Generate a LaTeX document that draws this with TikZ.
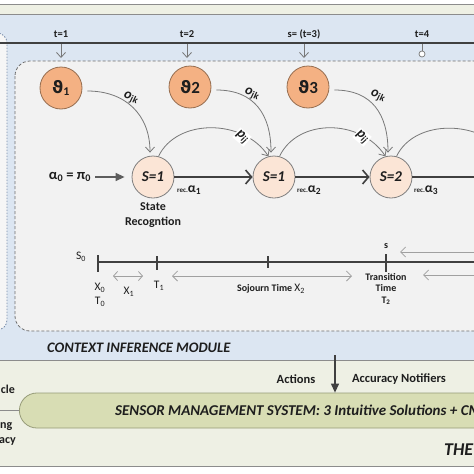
\documentclass[tikz,border=0pt]{standalone}
\usepackage{fontspec}
\setmainfont{Carlito}
\newfontfamily\dvs{DejaVu Sans}
\usetikzlibrary{arrows.meta}
\newcommand\lowidx[1]{\textsubscript{#1}}
\definecolor{bluebg}{RGB}{220,230,242}
\definecolor{greenbg}{RGB}{238,240,228}
\definecolor{boxfill}{RGB}{242,242,242}
\definecolor{leftfill}{RGB}{246,246,246}
\definecolor{leftdraw}{RGB}{120,140,170}
\definecolor{boxdraw}{RGB}{110,110,110}
\definecolor{thfill}{RGB}{244,177,131}
\definecolor{thdraw}{RGB}{150,110,80}
\definecolor{stfill}{RGB}{251,229,214}
\definecolor{stdraw}{RGB}{127,127,127}
\definecolor{pillfill}{RGB}{216,221,180}
\definecolor{pilldraw}{RGB}{150,155,120}
\definecolor{darkline}{RGB}{64,64,64}
\definecolor{arrgray}{RGB}{120,120,120}
\definecolor{lightarr}{RGB}{160,160,160}
\definecolor{txt}{RGB}{30,30,30}
\definecolor{sepgray}{RGB}{140,140,140}
\begin{document}
\begin{tikzpicture}[x=1pt,y=-1pt,
  thnode/.style={circle, minimum size=42pt, inner sep=0pt, fill=thfill, draw=thdraw, line width=0.8pt, text=txt, font=\fontsize{17}{17}\selectfont\bfseries},
  stnode/.style={circle, minimum size=42pt, inner sep=0pt, fill=stfill, draw=stdraw, line width=0.8pt, text=txt, font=\fontsize{15}{15}\selectfont\bfseries\itshape},
  thinarr/.style={draw=arrgray, line width=0.8pt, -{Straight Barb[length=5pt,width=9pt]}},
  transarr/.style={draw=darkline, line width=1.8pt, -{Straight Barb[length=6pt,width=14pt,line width=1.6pt]}},
  dimarr/.style={draw=lightarr, line width=0.8pt},
  tlab/.style={font=\fontsize{10.5}{10.5}\selectfont\bfseries, text=txt, inner sep=0pt},
  oflab/.style={font=\fontsize{14}{14}\selectfont\bfseries\itshape, text=txt, inner sep=1pt},
  reclab/.style={font=\fontsize{13.5}{13.5}\selectfont\bfseries, text=txt, inner sep=0pt, anchor=west},
  smalllab/.style={font=\fontsize{11.5}{11.5}\selectfont, text=txt, inner sep=0pt},
  smallbold/.style={font=\fontsize{10}{11.5}\selectfont\bfseries, text=txt, inner sep=0pt, align=center},
  biglab/.style={font=\fontsize{14.5}{14.5}\selectfont\bfseries\itshape, text=txt, inner sep=0pt, anchor=west},
  sidelab/.style={font=\fontsize{12}{12}\selectfont\bfseries, text=txt, inner sep=0pt, anchor=east}
]
\useasboundingbox (0,0) rectangle (474,474);
\clip (0,0) rectangle (474,474);
% backgrounds
\fill[white] (0,0) rectangle (474,474);
\fill[greenbg] (0,4) rectangle (474,14);
\draw[sepgray, line width=0.8pt] (0,4) -- (474,4);
\fill[bluebg] (0,14) rectangle (474,360);
\draw[sepgray, line width=0.8pt] (0,14) -- (474,14);
\fill[greenbg] (0,360) rectangle (474,466);
\draw[sepgray, line width=0.8pt] (0,360) -- (474,360);
\draw[sepgray, line width=0.8pt] (0,466) -- (474,466);
% left box
\draw[leftdraw, fill=leftfill, line width=0.8pt, dash pattern=on 1.5pt off 1.5pt, rounded corners=10pt] (-100,33) rectangle (7,330);
% main box
\draw[boxdraw, fill=boxfill, line width=0.8pt, dash pattern=on 3pt off 2pt, rounded corners=15pt] (15,61) rectangle (530,331);
% top timeline
\draw[darkline, line width=1.5pt] (0,43) -- (474,43);
\node[tlab] (t1) at (61,34) {t=1};
\node[tlab] (t2) at (187,34) {t=2};
\node[tlab] (t3) at (304,34) {s= (t=3)};
\node[tlab] (t4) at (422,34) {t=4};
\coordinate (a1s) at (61,44); \coordinate (a1e) at (61,58);
\coordinate (a2s) at (187,44); \coordinate (a2e) at (187,58);
\coordinate (a3s) at (304,44); \coordinate (a3e) at (304,58);
\draw[thinarr] (a1s) -- (a1e);
\draw[thinarr] (a2s) -- (a2e);
\draw[thinarr] (a3s) -- (a3e);
\node[circle, draw=arrgray, fill=white, line width=0.7pt, minimum size=6pt, inner sep=0pt] (t4c) at (422,54) {};
\coordinate (a4s) at (422,44);
\draw[arrgray, line width=0.8pt] (a4s) -- (t4c);
% theta nodes
\node[thnode] (th1) at (61,88) {{\dvs ϑ}\lowidx{1}};
\node[thnode] (th2) at (190,87) {{\dvs ϑ}2};
\node[thnode] (th3) at (308,87) {{\dvs ϑ}3};
% state nodes
\node[stnode] (s1) at (153,177) {S=1};
\node[stnode] (s2) at (274,177) {S=1};
\node[stnode] (s3) at (391,177) {S=2};
\coordinate (rend) at (490,177);
\coordinate (s4top) at (508,157);
% initial
\node[font=\fontsize{14.5}{14.5}\selectfont\bfseries, text=txt, inner sep=0pt] (init) at (70,177) {α\lowidx{0} = π\lowidx{0}};
\draw[draw=darkline!85, line width=1.4pt, -{Triangle[length=9pt,width=8pt]}, shorten <=4pt, shorten >=7pt] (init) -- (s1);
% transitions
\draw[transarr] (s1) -- (s2);
\draw[transarr] (s2) -- (s3);
\draw[draw=darkline, line width=1.8pt] (s3) -- (rend);
% observation arcs
\draw[thinarr] ([xshift=5pt,yshift=-3pt]th1.east) .. controls +(38,0) and +(0,-38) .. ([xshift=-3pt,yshift=3pt]s1.north);
\draw[thinarr] ([xshift=5pt,yshift=-3pt]th2.east) .. controls +(38,0) and +(0,-38) .. ([xshift=-3pt,yshift=3pt]s2.north);
\draw[thinarr] ([xshift=5pt,yshift=-3pt]th3.east) .. controls +(38,0) and +(0,-38) .. ([xshift=-3pt,yshift=3pt]s3.north);
\node[oflab, rotate=-18] (o1) at (131,98) {o\lowidx{jk}};
\node[oflab, rotate=-18] (o2) at (252,94) {o\lowidx{jk}};
\node[oflab, rotate=-18] (o3) at (378,96) {o\lowidx{jk}};
% transition arcs
\draw[thinarr] (s1.75) .. controls +(18,-38) and +(-25,-38) .. (s2.105);
\draw[thinarr] (s2.75) .. controls +(18,-38) and +(-25,-38) .. (s3.105);
\draw[arrgray, line width=0.8pt] (s3.75) .. controls +(18,-38) and +(-25,-38) .. (s4top);
\node[oflab, fill=white, rotate=-40] (p1) at (242,137) {p\lowidx{ij}};
\node[oflab, fill=white, rotate=-40] (p2) at (362,137) {p\lowidx{ij}};
% recognised alphas
\node[reclab] (r1) at (177,190) {{\fontsize{7}{7}\selectfont rec.}α\lowidx{1}};
\node[reclab] (r2) at (297,190) {{\fontsize{7}{7}\selectfont rec.}α\lowidx{2}};
\node[reclab] (r3) at (414,190) {{\fontsize{7}{7}\selectfont rec.}α\lowidx{3}};
\node[font=\fontsize{12}{15}\selectfont\bfseries, text=txt, align=center, inner sep=0pt] (srec) at (153,215) {State\\Recogntion};
% lower timeline
\coordinate (tl0) at (98,262);
\coordinate (tlend) at (490,262);
\draw[darkline, line width=1.5pt] (tl0) -- (tlend);
\draw[darkline, line width=1.2pt] (98,255) -- (98,272);
\draw[darkline, line width=1.2pt] (157,256) -- (157,270);
\draw[darkline, line width=1.2pt] (268,256) -- (268,268);
\draw[darkline, line width=1.2pt] (386,254) -- (386,272);
\node[smalllab] (S0) at (81,257) {S\lowidx{0}};
\node[smalllab] (X0) at (100,288) {X\lowidx{0}};
\node[smalllab] (T0) at (100,302) {T\lowidx{0}};
\node[smalllab] (X1) at (129,292) {X\lowidx{1}};
\node[smalllab] (T1) at (159,286) {T\lowidx{1}};
\coordinate (x1a) at (113,276); \coordinate (x1b) at (143,276);
\draw[dimarr, {Straight Barb[length=4pt,width=9pt]}-{Straight Barb[length=4pt,width=9pt]}] (x1a) -- (x1b);
\coordinate (x2a) at (172,276); \coordinate (x2b) at (352,276);
\draw[dimarr, {Straight Barb[length=5pt,width=10pt]}-{Straight Barb[length=5pt,width=10pt]}] (x2a) -- (x2b);
\node[smallbold] (soj) at (271,289) {Sojourn Time {\fontsize{11.5}{11.5}\selectfont\mdseries X\lowidx{2}}};
\node[smallbold] (sl) at (386,246) {s};
\node[smallbold] (trans) at (386,289) {Transition\\Time\\T\lowidx{2}};
\coordinate (ra1) at (490,252); \coordinate (rb1) at (400,252);
\coordinate (ra2) at (490,275); \coordinate (rb2) at (423,275);
\draw[dimarr, -{Straight Barb[length=5pt,width=10pt]}] (ra1) -- (rb1);
\draw[dimarr, -{Straight Barb[length=5pt,width=10pt]}] (ra2) -- (rb2);
% module label
\node[biglab] (cim) at (47,348) {CONTEXT INFERENCE MODULE};
% sensor management
\node[draw=pilldraw, fill=pillfill, line width=0.8pt, rounded corners=17.5pt, minimum height=35pt, minimum width=520pt, anchor=west, inner sep=0pt] (sms) at (19,410.5) {};
\node[biglab, font=\fontsize{15}{15}\selectfont\bfseries\itshape] (smst) at (115,410) {SENSOR MANAGEMENT SYSTEM: 3 Intuitive Solutions + CM};
\coordinate (lft) at (0,410.5);
\draw[sepgray, line width=0.8pt] (lft) -- (sms.west);
\node[sidelab] (s1l) at (15,389) {cle};
\node[sidelab] (s2l) at (12.5,427) {ng};
\node[sidelab] (s3l) at (16,441) {acy};
\coordinate (cimb) at (335,355);
\draw[darkline, line width=1.2pt, -{Triangle[length=9pt,width=8pt]}] (cimb) -- (cimb |- sms.north);
\node[font=\fontsize{12.5}{12.5}\selectfont\bfseries, text=txt, inner sep=0pt] (act) at (296,379) {Actions};
\node[font=\fontsize{12.5}{12.5}\selectfont\bfseries, text=txt, inner sep=0pt] (accn) at (399,379) {Accuracy Notifiers};
\node[font=\fontsize{18}{18}\selectfont\bfseries\itshape, text=txt, inner sep=0pt, anchor=west] (the) at (444,450) {THE};
\end{tikzpicture}
\end{document}
